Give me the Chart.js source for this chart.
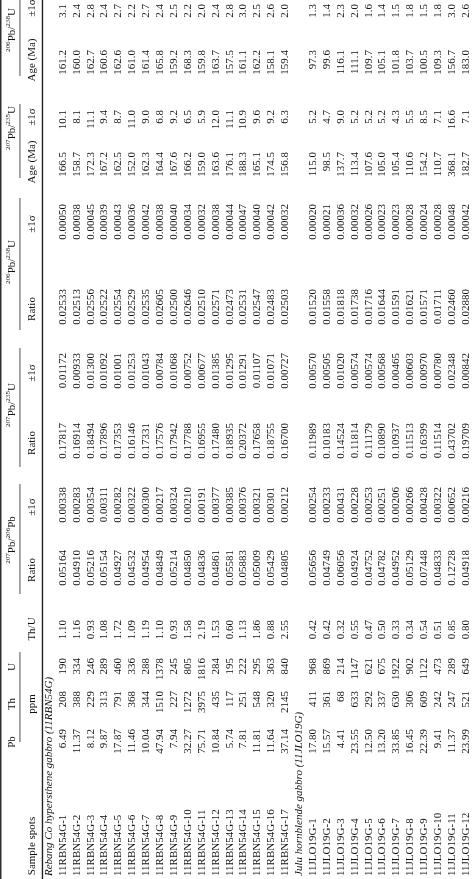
<!DOCTYPE html>
<html>
<head>
<meta charset="utf-8">
<script src="https://cdn.jsdelivr.net/npm/chart.js@4"></script>
<style>
  body { margin: 0; background: #fff; }
  canvas { display: block; }
</style>
</head>
<body>
<canvas id="table" width="474" height="879"></canvas>
<script>
// sample groups and spots
const groups = ["Rebang Co hypersthene gabbro (11RBN54G)", "Julu hornblende gabbro (11JLO19G)"];
const spots = [
  "11RBN54G-1","11RBN54G-2","11RBN54G-3","11RBN54G-4","11RBN54G-5","11RBN54G-6","11RBN54G-7","11RBN54G-8","11RBN54G-9",
  "11RBN54G-10","11RBN54G-11","11RBN54G-12","11RBN54G-13","11RBN54G-14","11RBN54G-15","11RBN54G-16","11RBN54G-17",
  "11JLO19G-1","11JLO19G-2","11JLO19G-3","11JLO19G-4","11JLO19G-5","11JLO19G-6","11JLO19G-7","11JLO19G-8","11JLO19G-9",
  "11JLO19G-10","11JLO19G-11","11JLO19G-12"
];

const pb = [6.49,11.37,8.12,9.87,17.87,11.46,10.04,47.94,7.94,32.27,75.71,10.84,5.74,7.81,11.81,11.64,37.14,
  17.80,15.57,4.41,23.55,12.50,13.20,33.85,16.45,22.39,9.41,11.37,23.99];
const th = [208,388,229,313,791,368,344,1510,227,1272,3975,435,117,251,548,320,2145,
  411,361,68,633,292,337,630,306,609,242,247,521];
const u = [190,334,246,289,460,336,288,1378,245,805,1816,284,195,222,295,363,840,
  968,869,214,1147,621,675,1922,902,1122,473,289,649];
const thU = [1.10,1.16,0.93,1.08,1.72,1.09,1.19,1.10,0.93,1.58,2.19,1.53,0.60,1.13,1.86,0.88,2.55,
  0.42,0.42,0.32,0.55,0.47,0.50,0.33,0.34,0.54,0.51,0.85,0.80];
const r76 = [0.05164,0.04910,0.05216,0.05154,0.04927,0.04532,0.04954,0.04849,0.05214,0.04850,0.04836,0.04861,0.05581,0.05883,0.05009,0.05429,0.04805,
  0.05656,0.04749,0.06056,0.04924,0.04752,0.04782,0.04952,0.05129,0.07448,0.04833,0.12728,0.04918];
const r76e = [0.00338,0.00283,0.00354,0.00311,0.00282,0.00322,0.00300,0.00217,0.00324,0.00210,0.00191,0.00377,0.00385,0.00376,0.00321,0.00301,0.00212,
  0.00254,0.00233,0.00431,0.00228,0.00253,0.00251,0.00206,0.00266,0.00428,0.00322,0.00652,0.00216];
const r75 = [0.17817,0.16914,0.18494,0.17896,0.17353,0.16146,0.17331,0.17576,0.17942,0.17788,0.16955,0.17480,0.18935,0.20372,0.17658,0.18755,0.16700,
  0.11989,0.10183,0.14524,0.11814,0.11179,0.10890,0.10937,0.11513,0.16399,0.11514,0.43702,0.19709];
const r75e = [0.01172,0.00933,0.01300,0.01092,0.01001,0.01253,0.01043,0.00784,0.01068,0.00752,0.00677,0.01385,0.01295,0.01291,0.01107,0.01071,0.00727,
  0.00570,0.00505,0.01020,0.00574,0.00574,0.00568,0.00465,0.00603,0.00970,0.00780,0.02348,0.00842];
const r68 = [0.02533,0.02513,0.02556,0.02522,0.02554,0.02529,0.02535,0.02605,0.02500,0.02646,0.02510,0.02571,0.02473,0.02531,0.02547,0.02483,0.02503,
  0.01520,0.01558,0.01818,0.01738,0.01716,0.01644,0.01591,0.01621,0.01571,0.01711,0.02460,0.02880];
const r68e = [0.00050,0.00038,0.00045,0.00039,0.00043,0.00036,0.00042,0.00038,0.00040,0.00034,0.00032,0.00038,0.00044,0.00047,0.00040,0.00042,0.00032,
  0.00020,0.00021,0.00036,0.00032,0.00026,0.00023,0.00023,0.00028,0.00024,0.00028,0.00048,0.00042];
const age75 = [166.5,158.7,172.3,167.2,162.5,152.0,162.3,164.4,167.6,166.2,159.0,163.6,176.1,188.3,165.1,174.5,156.8,
  115.0,98.5,137.7,113.4,107.6,105.0,105.4,110.6,154.2,110.7,368.1,182.7];
const age75e = [10.1,8.1,11.1,9.4,8.7,11.0,9.0,6.8,9.2,6.5,5.9,12.0,11.1,10.9,9.6,9.2,6.3,
  5.2,4.7,9.0,5.2,5.2,5.2,4.3,5.5,8.5,7.1,16.6,7.1];
const age68 = [161.2,160.0,162.7,160.6,162.6,161.0,161.4,165.8,159.2,168.3,159.8,163.7,157.5,161.1,162.2,158.1,159.4,
  97.3,99.6,116.1,111.1,109.7,105.1,101.8,103.7,100.5,109.3,156.7,183.0];
const age68e = [3.1,2.4,2.8,2.4,2.7,2.2,2.7,2.4,2.5,2.2,2.0,2.4,2.8,3.0,2.5,2.6,2.0,
  1.3,1.4,2.3,2.0,1.6,1.4,1.5,1.8,1.5,1.8,3.0,2.6];

// layout: column anchors along the page height (rotated table), decimals per column
const columns = [
  { vals: pb, dec: 2, at: 729 }, { vals: th, dec: 0, at: 691 }, { vals: u, dec: 0, at: 658 },
  { vals: thU, dec: 2, at: 620 }, { vals: r76, dec: 5, at: 550 }, { vals: r76e, dec: 5, at: 487 },
  { vals: r75, dec: 5, at: 423 }, { vals: r75e, dec: 5, at: 353 }, { vals: r68, dec: 5, at: 289 },
  { vals: r68e, dec: 5, at: 204 }, { vals: age75, dec: 1, at: 152 }, { vals: age75e, dec: 1, at: 110 },
  { vals: age68, dec: 1, at: 50 }, { vals: age68e, dec: 1, at: 4 }
];
const nameAt = 876;
const rowOf = i => (i < 17 ? i + 1 : i + 2);
const FONT = '"Liberation Serif", "Times New Roman", serif';

const datasets = columns.map(c => ({
  data: c.vals.map((v, i) => ({ x: rowOf(i), y: c.at })),
  labels: c.vals.map(v => v.toFixed(c.dec)),
  align: 'right', pointRadius: 0
}));
datasets.push({ data: spots.map((s, i) => ({ x: rowOf(i), y: nameAt })), labels: spots, align: 'left', pointRadius: 0 });
datasets.push({ data: [{ x: 0, y: nameAt }, { x: 18, y: nameAt }], labels: groups, align: 'left', italic: true, pointRadius: 0 });

// header: [segments, row, centre]
const S = t => ({ t, sup: true });
const headers = [
  [["Sample spots"], -1.22, 846],
  [["Pb"], -2.66, 742], [["Th"], -2.66, 704], [["U"], -2.66, 667],
  [["ppm"], -1.22, 704], [["Th/U"], -1.22, 629],
  [[S("207"), "Pb/", S("206"), "Pb"], -2.66, 540], [["Ratio"], -1.22, 570], [["\u00b11\u03c3"], -1.22, 507],
  [[S("207"), "Pb/", S("235"), "U"], -2.66, 405], [["Ratio"], -1.22, 443], [["\u00b11\u03c3"], -1.22, 373],
  [[S("206"), "Pb/", S("238"), "U"], -2.66, 262], [["Ratio"], -1.22, 309], [["\u00b11\u03c3"], -1.22, 224],
  [[S("207"), "Pb/", S("235"), "U"], -2.66, 128], [["Age (Ma)"], -1.22, 162], [["\u00b11\u03c3"], -1.22, 117],
  [[S("206"), "Pb/", S("238"), "U"], -2.66, 30], [["Age (Ma)"], -1.22, 60], [["\u00b11\u03c3"], -1.22, 8]
];
const spans = [[652, 742], [484, 594], [348, 467], [198, 330], [104, 178], [0, 76]];

function drawRich(ctx, segs, px, py, size) {
  ctx.save();
  ctx.translate(px, py);
  ctx.rotate(-Math.PI / 2);
  const parts = segs.map(s => (typeof s === 'string' ? { t: s } : s));
  let w = 0;
  parts.forEach(p => { ctx.font = (p.sup ? size * 0.65 : size) + 'px ' + FONT; p.w = ctx.measureText(p.t).width; w += p.w; });
  let x = -w / 2;
  ctx.textBaseline = 'middle';
  ctx.textAlign = 'left';
  parts.forEach(p => {
    ctx.font = (p.sup ? size * 0.65 : size) + 'px ' + FONT;
    ctx.fillText(p.t, x, p.sup ? -size * 0.35 : 0);
    x += p.w;
  });
  ctx.restore();
}

const tablePlugin = {
  id: 'table',
  afterDatasetsDraw(chart) {
    const ctx = chart.ctx, xs = chart.scales.x, ys = chart.scales.y;
    ctx.save();
    ctx.fillStyle = '#111';
    chart.data.datasets.forEach((ds, di) => {
      const meta = chart.getDatasetMeta(di);
      meta.data.forEach((pt, i) => {
        ctx.save();
        ctx.translate(pt.x, pt.y);
        ctx.rotate(-Math.PI / 2);
        ctx.font = (ds.italic ? 'italic ' : '') + '11px ' + FONT;
        ctx.textAlign = ds.align;
        ctx.textBaseline = 'middle';
        ctx.fillText(ds.labels[i], 0, 0);
        ctx.restore();
      });
    });
    headers.forEach(h => drawRich(ctx, h[0], xs.getPixelForValue(h[1]), ys.getPixelForValue(h[2]), 11));
    ctx.strokeStyle = '#222';
    ctx.lineWidth = 0.8;
    const lx = xs.getPixelForValue(-2.09);
    spans.forEach(s => {
      ctx.beginPath(); ctx.moveTo(lx, ys.getPixelForValue(s[0])); ctx.lineTo(lx, ys.getPixelForValue(s[1])); ctx.stroke();
    });
    ctx.lineWidth = 1.4;
    [-0.47, -3.47].forEach(r => {
      const x = xs.getPixelForValue(r);
      ctx.beginPath(); ctx.moveTo(x, ys.getPixelForValue(0)); ctx.lineTo(x, ys.getPixelForValue(879)); ctx.stroke();
    });
    ctx.restore();
  }
};

new Chart(document.getElementById('table').getContext('2d'), {
  type: 'scatter',
  data: { datasets },
  options: {
    responsive: false,
    animation: false,
    layout: { padding: 0 },
    plugins: { legend: { display: false }, tooltip: { enabled: false } },
    scales: {
      x: { type: 'linear', display: false, min: -3.525, max: 30.576 },
      y: { type: 'linear', display: false, min: 0, max: 879, reverse: true }
    }
  },
  plugins: [tablePlugin]
});
</script>
</body>
</html>
